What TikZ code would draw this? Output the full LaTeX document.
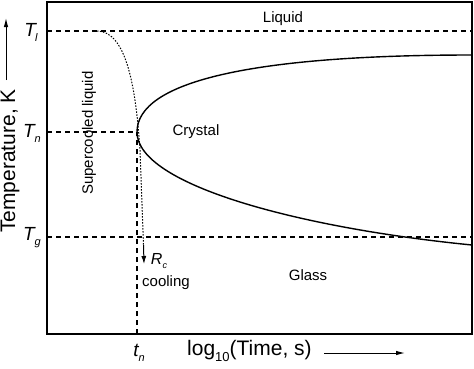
\documentclass[tikz,border=0pt]{standalone}
\usepackage{fontspec}
\setmainfont{Liberation Sans}
\usetikzlibrary{arrows.meta}
\newcommand{\sbs}[2][-5pt]{\raisebox{#1}{\fontsize{11}{12}\selectfont #2}}
\begin{document}
\begin{tikzpicture}[x=1pt,y=-1pt,
  lbl/.style={inner sep=0pt,font=\fontsize{15}{17}\selectfont},
  axl/.style={inner sep=0pt,font=\fontsize{21}{23}\selectfont},
  tl/.style={inner sep=0pt,font=\fontsize{19}{21}\selectfont\itshape},
  guide/.style={dash pattern=on 5pt off 4pt,line width=1.2pt},
  frame/.style={line width=2pt},
  arr/.style={line width=1pt,-{Latex[length=9pt,width=4.5pt]}}]
\useasboundingbox (0,0) rectangle (474,368);
\draw[frame] (47,2) rectangle (472,334);
% guide lines
\coordinate (l0) at (47,31); \coordinate (l1) at (472,31);
\coordinate (n0) at (47,132); \coordinate (n1) at (137,132);
\coordinate (g0) at (47,237); \coordinate (g1) at (472,237);
\coordinate (t0) at (137,334); \coordinate (t1) at (137,132);
\draw[guide] (l0) -- (l1);
\draw[guide] (n0) -- (n1);
\draw[guide] (g0) -- (g1);
\draw[guide] (t0) -- (t1);
% crystal nose curve
\draw[line width=1.4pt] (472,55) .. controls (250,55) and (137,82) .. (137,132)
  .. controls (137,185) and (300,228) .. (472,245);
% cooling curve
\coordinate (c0) at (97,31);
\coordinate (c1) at (140,150);
\coordinate (c2) at (144,264);
\draw[line width=1pt,dash pattern=on 1.5pt off 1.5pt] (c0) .. controls (127,31) and (136,90) .. (c1) -- (143.5,245);
\draw[line width=1pt,-{Latex[length=8pt,width=5pt]}] (143.5,245) -- (c2);
% labels
\node[tl] (Tl) at (31,32) {T\kern-1pt\sbs{l}};
\node[tl] (Tn) at (32,133) {T\sbs{n}};
\node[tl] (Tg) at (32,238) {T\sbs{g}};
\node[tl] (tn) at (139,353) {t\sbs{n}};
\node[lbl] (liq) at (283,19) {Liquid};
\node[lbl] (cry) at (196,132) {Crystal};
\node[lbl] (gla) at (308,275) {Glass};
\node[lbl,rotate=90] (sup) at (89,133) {Supercooled liquid};
\node[lbl,font=\fontsize{16}{18}\selectfont\itshape] (rc) at (159,261) {R\sbs[-4pt]{\fontsize{9}{10}\selectfont c}};
\node[lbl] (cool) at (166,283) {cooling};
\node[axl,anchor=west] (time) at (187,351) {log\sbs[-6pt]{\fontsize{13}{14}\selectfont 10}(Time, s)};
\coordinate (ta) at (405,353);
\coordinate (ts) at (324,353);
\draw[arr] (ts) -- (ta);
\node[axl,rotate=90,anchor=west] (temp) at (10,233) {Temperature, K};
\coordinate (ya) at (6,18);
\coordinate (ys) at (6,80);
\draw[arr] (ys) -- (ya);
\end{tikzpicture}
\end{document}
